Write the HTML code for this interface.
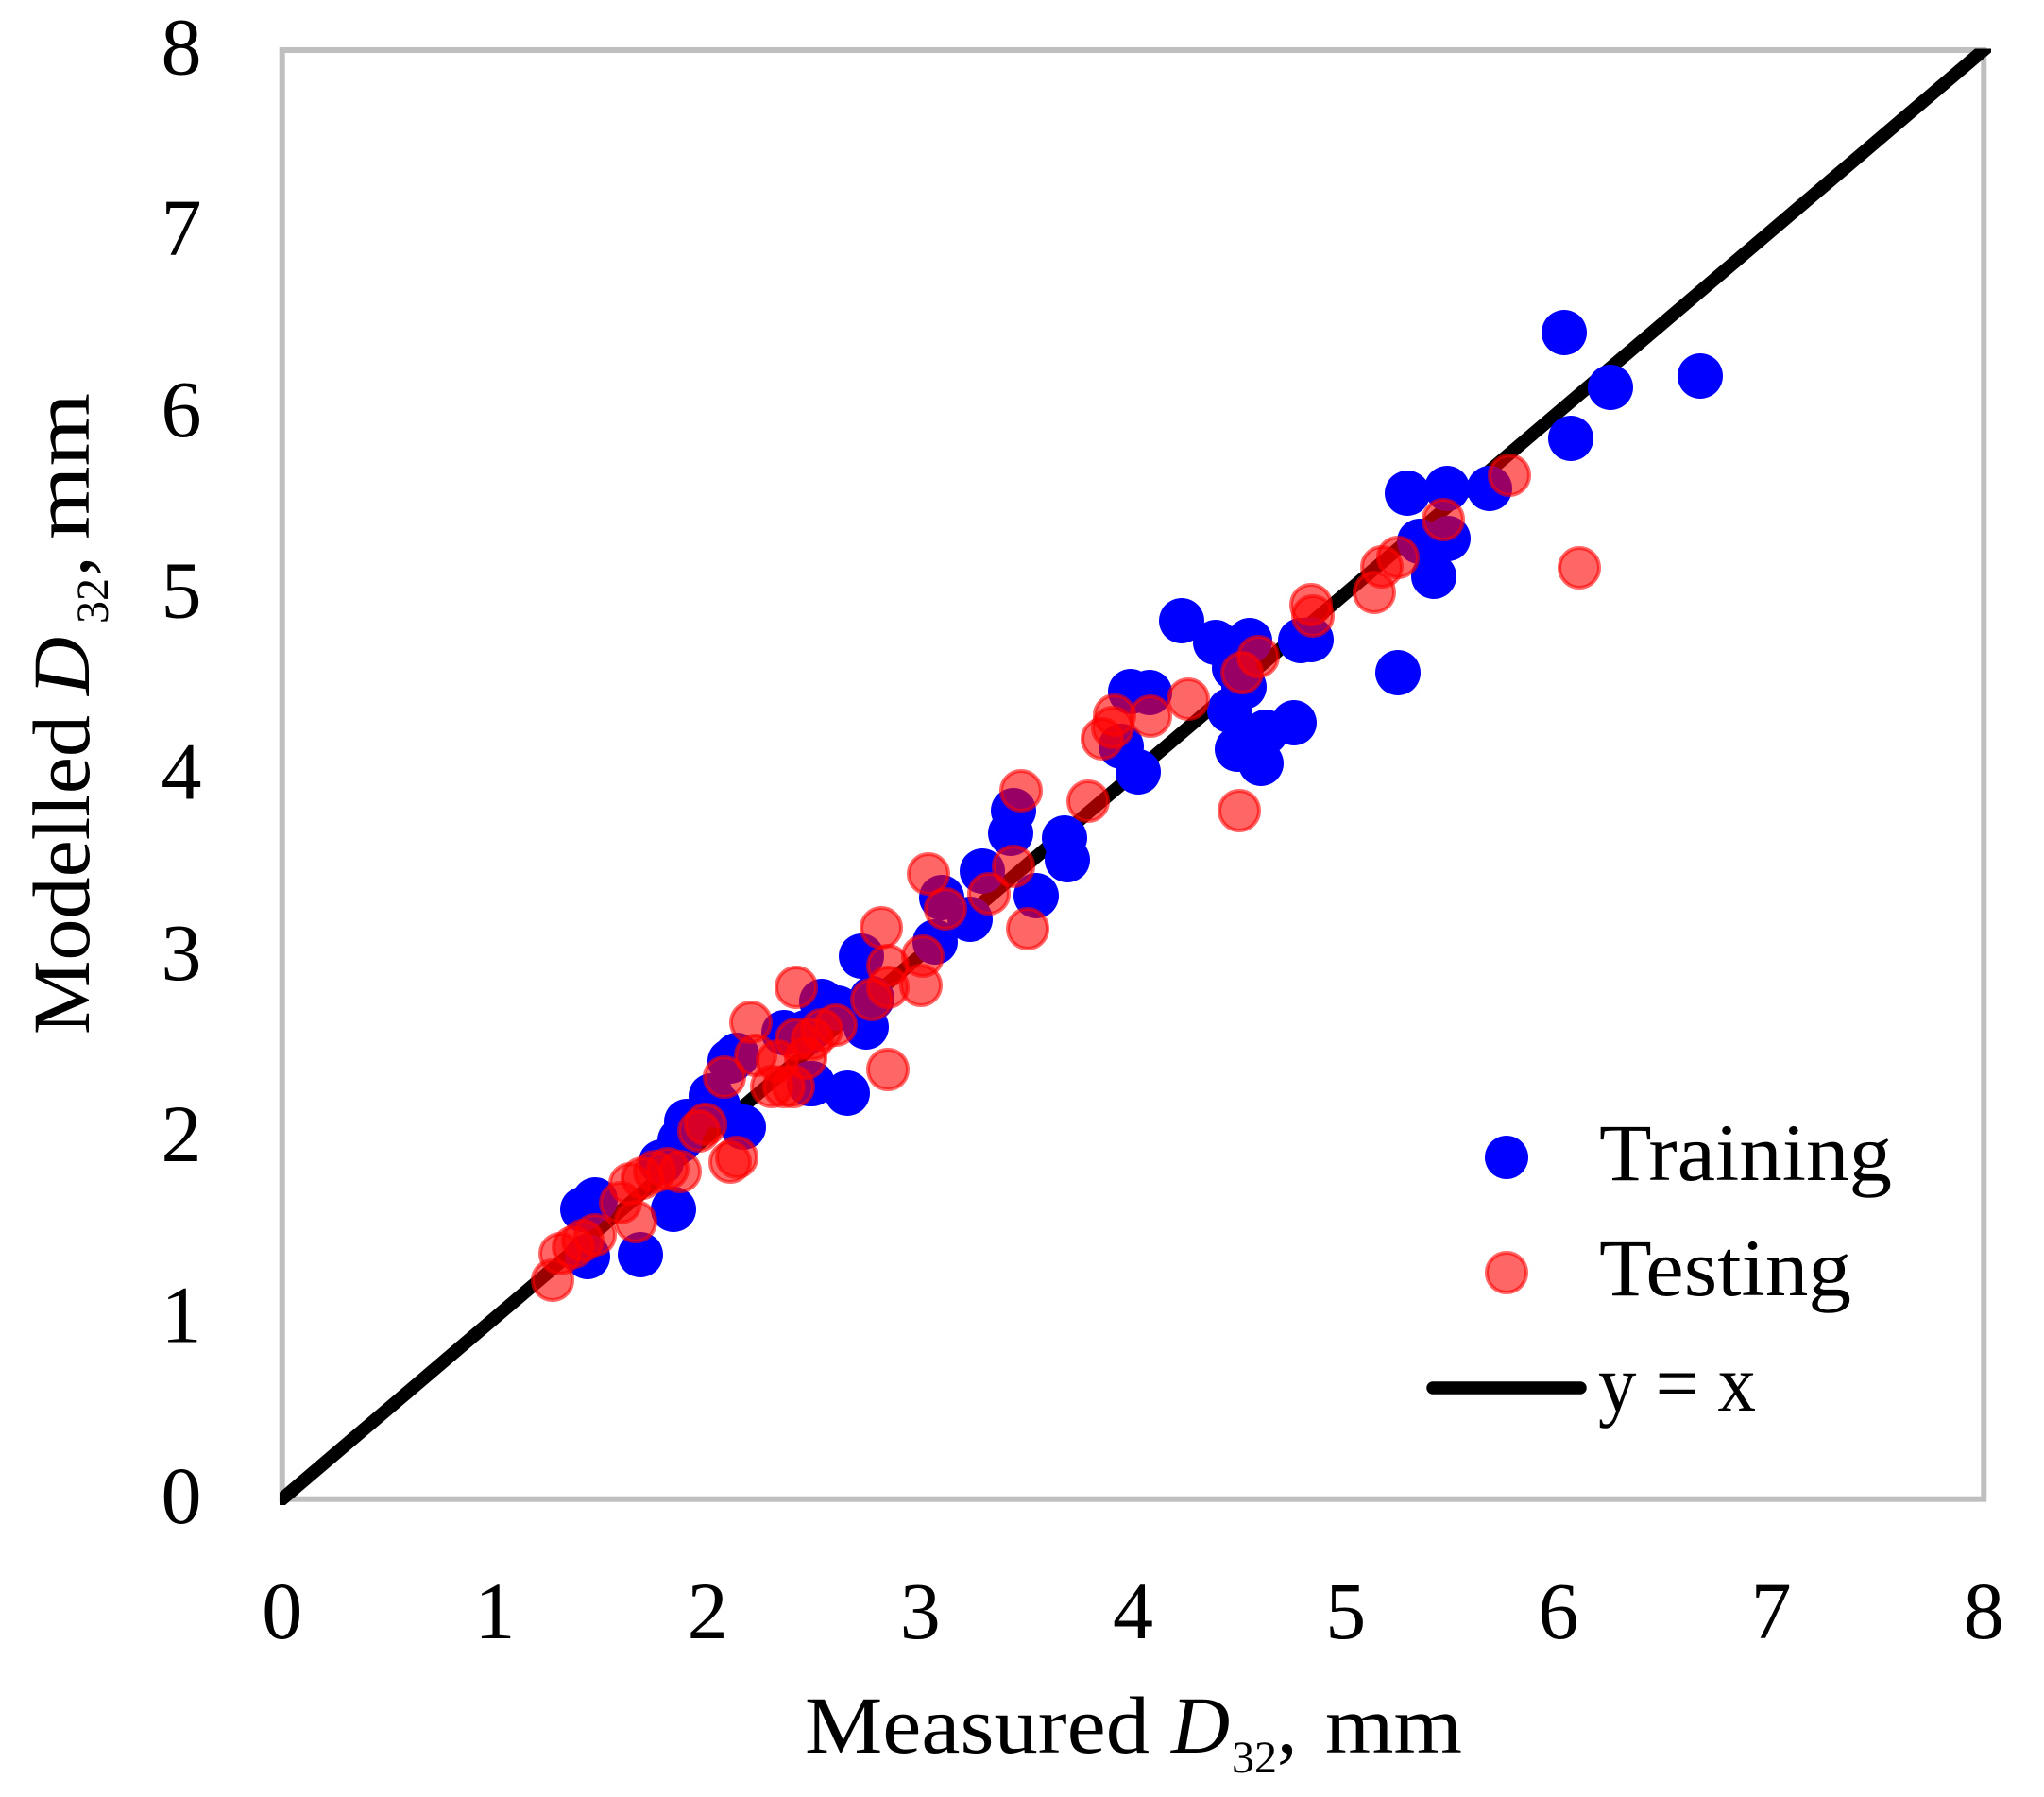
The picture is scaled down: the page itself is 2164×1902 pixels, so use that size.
<!DOCTYPE html>
<html>
<head>
<meta charset="utf-8">
<style>
html,body{margin:0;padding:0;background:#fff;}
svg{display:block;}
text{font-family:"Liberation Serif",serif;fill:#000;}
</style>
</head>
<body>
<svg width="2164" height="1902" viewBox="0 0 2164 1902" xmlns="http://www.w3.org/2000/svg">
<rect x="0" y="0" width="2164" height="1902" fill="#fff"/>
<defs>
<clipPath id="pc"><rect x="296" y="51.5" width="1812" height="1541.5"/></clipPath>
</defs>
<!-- frame -->
<rect x="298.7" y="53" width="1801.6" height="1533.7" fill="none" stroke="#bfbfbf" stroke-width="6"/>
<!-- y = x line -->
<line x1="290" y1="1594" x2="2110" y2="44.5" stroke="#000" stroke-width="14" clip-path="url(#pc)"/>
<!-- training -->
<g fill="#0000ff">
<circle cx="1656" cy="352" r="24"/><circle cx="1800" cy="398" r="24"/><circle cx="1705" cy="410" r="24"/><circle cx="1663" cy="464" r="24"/><circle cx="1577" cy="517" r="24"/>
<circle cx="1490" cy="522" r="24"/><circle cx="1532" cy="517" r="24"/><circle cx="1533" cy="570" r="24"/><circle cx="1503" cy="573" r="24"/><circle cx="1518" cy="610" r="24"/><circle cx="1480" cy="712" r="24"/><circle cx="1388" cy="677" r="24"/>
<circle cx="1251" cy="657" r="24"/><circle cx="1287" cy="680" r="24"/><circle cx="1323" cy="678" r="24"/><circle cx="1377" cy="678" r="24"/><circle cx="1307" cy="707" r="24"/><circle cx="1317" cy="727" r="24"/><circle cx="1302" cy="752" r="24"/><circle cx="1370" cy="765" r="24"/><circle cx="1310" cy="793" r="24"/><circle cx="1340" cy="775" r="24"/><circle cx="1335" cy="808" r="24"/>
<circle cx="1197" cy="732" r="24"/><circle cx="1217" cy="733" r="24"/><circle cx="1187" cy="790" r="24"/><circle cx="1205" cy="817" r="24"/><circle cx="1127" cy="887" r="24"/><circle cx="1130" cy="910" r="24"/>
<circle cx="1073" cy="858" r="24"/><circle cx="1070" cy="882" r="24"/><circle cx="1040" cy="922" r="24"/><circle cx="1097" cy="948" r="24"/><circle cx="997" cy="950" r="24"/><circle cx="1027" cy="973" r="24"/><circle cx="990" cy="997" r="24"/><circle cx="912" cy="1012" r="24"/><circle cx="923" cy="1057" r="24"/><circle cx="917" cy="1087" r="24"/><circle cx="887" cy="1067" r="24"/><circle cx="897" cy="1157" r="24"/><circle cx="857" cy="1147" r="24"/><circle cx="853" cy="1093" r="24"/>
<circle cx="870" cy="1060" r="24"/><circle cx="830" cy="1093" r="24"/><circle cx="780" cy="1117" r="24"/><circle cx="773" cy="1123" r="24"/><circle cx="753" cy="1160" r="24"/><circle cx="760" cy="1170" r="24"/><circle cx="727" cy="1187" r="24"/><circle cx="720" cy="1207" r="24"/><circle cx="787" cy="1193" r="24"/><circle cx="860" cy="1147" r="24"/><circle cx="700" cy="1230" r="24"/>
<circle cx="713" cy="1280" r="24"/><circle cx="678" cy="1328" r="24"/><circle cx="630" cy="1270" r="24"/><circle cx="617" cy="1280" r="24"/><circle cx="622" cy="1330" r="24"/>
</g>
<!-- testing -->
<g fill="#ff0000" fill-opacity="0.6" stroke="#ff0000" stroke-opacity="0.6" stroke-width="4">
<circle cx="1598" cy="503" r="21"/><circle cx="1672" cy="601" r="21"/><circle cx="1528" cy="550" r="21"/><circle cx="1480" cy="590" r="21"/><circle cx="1463" cy="600" r="21"/><circle cx="1455" cy="627" r="21"/><circle cx="1388" cy="640" r="21"/><circle cx="1390" cy="652" r="21"/>
<circle cx="1332" cy="695" r="21"/><circle cx="1315" cy="712" r="21"/><circle cx="1258" cy="740" r="21"/><circle cx="1218" cy="758" r="21"/><circle cx="1180" cy="757" r="21"/><circle cx="1167" cy="782" r="21"/><circle cx="1178" cy="770" r="21"/><circle cx="1152" cy="848" r="21"/><circle cx="1312" cy="858" r="21"/>
<circle cx="1081" cy="837" r="21"/><circle cx="1073" cy="917" r="21"/><circle cx="1047" cy="946" r="21"/><circle cx="1088" cy="983" r="21"/><circle cx="983" cy="925" r="21"/><circle cx="1001" cy="962" r="21"/><circle cx="977" cy="1012" r="21"/><circle cx="933" cy="982" r="21"/><circle cx="940" cy="1022" r="21"/><circle cx="975" cy="1043" r="21"/><circle cx="923" cy="1058" r="21"/><circle cx="940" cy="1045" r="21"/><circle cx="885" cy="1085" r="21"/><circle cx="940" cy="1132" r="21"/><circle cx="843" cy="1100" r="21"/><circle cx="840" cy="1150" r="21"/><circle cx="853" cy="1120" r="21"/>
<circle cx="843" cy="1045" r="21"/><circle cx="795" cy="1082" r="21"/><circle cx="767" cy="1140" r="21"/><circle cx="747" cy="1190" r="21"/><circle cx="740" cy="1197" r="21"/><circle cx="773" cy="1230" r="21"/><circle cx="780" cy="1225" r="21"/><circle cx="823" cy="1123" r="21"/><circle cx="817" cy="1150" r="21"/><circle cx="830" cy="1150" r="21"/><circle cx="800" cy="1117" r="21"/><circle cx="870" cy="1090" r="21"/><circle cx="860" cy="1100" r="21"/>
<circle cx="680" cy="1247" r="21"/><circle cx="667" cy="1253" r="21"/><circle cx="707" cy="1237" r="21"/><circle cx="657" cy="1273" r="21"/><circle cx="673" cy="1293" r="21"/><circle cx="617" cy="1313" r="21"/><circle cx="630" cy="1307" r="21"/><circle cx="593" cy="1327" r="21"/><circle cx="607" cy="1320" r="21"/><circle cx="585" cy="1355" r="21"/><circle cx="693" cy="1240" r="21"/><circle cx="720" cy="1240" r="21"/>
</g>
<!-- y tick labels -->
<g font-size="86" text-anchor="middle">
<text x="192" y="1612.2">0</text>
<text x="192" y="1420.5">1</text>
<text x="192" y="1228.8">2</text>
<text x="192" y="1037.1">3</text>
<text x="192" y="845.4">4</text>
<text x="192" y="653.7">5</text>
<text x="192" y="461.9">6</text>
<text x="192" y="270.2">7</text>
<text x="192" y="78.5">8</text>
</g>
<!-- x tick labels -->
<g font-size="86" text-anchor="middle">
<text x="298.7" y="1734">0</text>
<text x="523.9" y="1734">1</text>
<text x="749.1" y="1734">2</text>
<text x="974.3" y="1734">3</text>
<text x="1199.5" y="1734">4</text>
<text x="1424.7" y="1734">5</text>
<text x="1649.9" y="1734">6</text>
<text x="1875.1" y="1734">7</text>
<text x="2100.3" y="1734">8</text>
</g>
<!-- x title -->
<text x="852" y="1855" font-size="86" textLength="365" lengthAdjust="spacingAndGlyphs">Measured</text>
<text x="1240" y="1855" font-size="86" font-style="italic">D</text>
<text x="1304" y="1876" font-size="48">32</text>
<text x="1352" y="1855" font-size="86">,</text>
<text x="1403" y="1855" font-size="86" textLength="145" lengthAdjust="spacingAndGlyphs">mm</text>
<!-- y title -->
<g transform="translate(94,0) rotate(-90)">
<text x="-1095" y="0" font-size="86" textLength="338" lengthAdjust="spacingAndGlyphs">Modelled</text>
<text x="-736" y="0" font-size="86" font-style="italic">D</text>
<text x="-660" y="20" font-size="48">32</text>
<text x="-610" y="0" font-size="86">,</text>
<text x="-571" y="0" font-size="86" textLength="155" lengthAdjust="spacingAndGlyphs">mm</text>
</g>
<!-- legend -->
<circle cx="1595" cy="1225" r="23" fill="#0000ff"/>
<text x="1693" y="1249" font-size="86" textLength="310" lengthAdjust="spacingAndGlyphs">Training</text>
<circle cx="1595" cy="1347" r="21" fill="#ff0000" fill-opacity="0.6" stroke="#ff0000" stroke-opacity="0.6" stroke-width="4"/>
<text x="1693" y="1371" font-size="86" textLength="267" lengthAdjust="spacingAndGlyphs">Testing</text>
<line x1="1517" y1="1469" x2="1673" y2="1469" stroke="#000" stroke-width="13.5" stroke-linecap="round"/>
<text x="1692" y="1493" font-size="86" textLength="167" lengthAdjust="spacingAndGlyphs">y = x</text>
</svg>
</body>
</html>
